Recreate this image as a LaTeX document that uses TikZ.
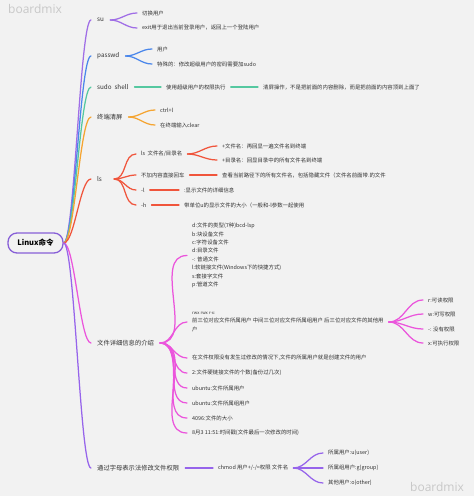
\documentclass[tikz,border=0pt]{standalone}
\usepackage{fontspec}
\newfontfamily\cjk{Noto Sans CJK SC}
\newfontfamily\wmfont{Open Sans}
\definecolor{bgc}{RGB}{242,242,242}
\definecolor{txt}{RGB}{50,50,50}
\definecolor{wmc}{RGB}{200,200,200}
\definecolor{rootc}{RGB}{135,95,215}
\definecolor{cSu}{RGB}{160,110,230}
\definecolor{cPw}{RGB}{75,135,235}
\definecolor{cSd}{RGB}{85,200,160}
\definecolor{cCl}{RGB}{245,165,50}
\definecolor{cLs}{RGB}{240,85,60}
\definecolor{cFi}{RGB}{235,85,220}
\definecolor{cCh}{RGB}{150,100,235}
\begin{document}
\begin{tikzpicture}[x=1pt,y=-1pt,
  base/.style={anchor=west, inner ysep=1pt, inner xsep=5pt, text=txt, font=\cjk\fontsize{5.4}{8.4}\selectfont},
  lone/.style={base, inner xsep=6pt, font=\cjk\fontsize{6.3}{7.5}\selectfont},
  rootbox/.style={draw=rootc, line width=1.3pt, rounded corners=9pt, minimum width=55pt, minimum height=20pt, text=black, font=\cjk\bfseries\fontsize{7.5}{9}\selectfont},
  lnk/.style={line width=1.25pt, line cap=round},
  trunk/.style={lnk},
  wm/.style={text=wmc, font=\wmfont\fontsize{12}{14}\selectfont, inner sep=0pt}
]
\fill[bgc] (0,0) rectangle (474,496);
\useasboundingbox (0,0) rectangle (474,496);

\node[wm, anchor=west] (wm1) at (8,9) {boardmix};
\node[wm, anchor=west] (wm2) at (410,487) {boardmix};

\node[rootbox] (root) at (35.5,243) {Linux命令};

% level 1
\node[lone] (su) at (91,20) {su};
\node[lone] (pw) at (91,56) {passwd};
\node[lone] (sd) at (91,87) {sudo\ \ shell};
\node[lone] (cl) at (91,117) {终端清屏};
\node[lone] (ls) at (91,179) {ls};
\node[lone] (fi) at (91,343) {文件详细信息的介绍};
\node[lone] (ch) at (91,468) {通过字母表示法修改文件权限};

\foreach \n/\c in {su/cSu,pw/cPw,sd/cSd,cl/cCl,ls/cLs,fi/cFi,ch/cCh}
  \draw[trunk,\c] (root.east) .. controls +(11,0) and +(-11,0) .. (\n.west);

% su
\node[base] (s1) at (137,13) {切换用户};
\node[base] (s2) at (137,28) {exit用于退出当前登录用户，返回上一个登陆用户};
% passwd
\node[base] (p1) at (152,49) {用户};
\node[base] (p2) at (152,64) {特殊的：修改超级用户的密码需要加sudo};
% sudo shell
\node[base] (g1) at (161,87) {使用超级用户的权限执行};
\node[base] (g2) at (258,87) {清屏操作，不是把前面的内容删除，而是把前面的内容顶到上面了};
% clear
\node[base] (c1) at (155,110) {ctrl+l};
\node[base] (c2) at (155,125) {在终端输入clear};
% ls
\node[base] (l1) at (136,154) {ls\ \ 文件名/目录名};
\node[base] (l11) at (217,146) {+文件名：再回显一遍文件名到终端};
\node[base] (l12) at (217,160) {+目录名：回显目录中的所有文件名到终端};
\node[base] (l2) at (136,175) {不加内容直接回车};
\node[base] (l21) at (217,175) {查看当前路径下的所有文件名，包括隐藏文件（文件名前面带.的文件};
\node[base] (l3) at (136,190) {-l};
\node[base] (l31) at (179,190) {:显示文件的详细信息};
\node[base] (l4) at (136,205) {-h};
\node[base] (l41) at (179,205) {带单位u的显示文件的大小（一般和-l参数一起使用};
% file info
\node[base, align=left] (f1) at (187,255.5) {d:文件的类型(7种)bcd-lsp\\b:块设备文件\\c:字符设备文件\\d:目录文件\\-: 普通文件\\l:软链接文件(Windows下的快捷方式)\\s:套接字文件\\p:管道文件};
\node[base, align=left] (f2) at (187,322) {{\fontsize{4.3}{6}\selectfont rwx rwx r-x:}\\前三位对应文件所属用户 中间三位对应文件所属组用户 后三位对应文件的其他用\\户};
\node[base] (f3) at (187,358) {在文件权限没有发生过修改的情况下,文件的所属用户就是创建文件的用户};
\node[base] (f4) at (187,373) {2:文件硬链接文件的个数(备份过几次)};
\node[base] (f5) at (187,388) {ubuntu:文件所属用户};
\node[base] (f6) at (187,403) {ubuntu:文件所属组用户};
\node[base] (f7) at (187,418) {4096:文件的大小};
\node[base] (f8) at (187,433) {8月3 11:51:时间戳(文件最后一次修改的时间)};
\node[base] (r1) at (423,300) {r:可读权限};
\node[base] (r2) at (423,314) {w:可写权限};
\node[base] (r3) at (423,329) {-: 没有权限};
\node[base] (r4) at (423,343) {x:可执行权限};
% chmod
\node[base] (m1) at (213,468) {chmod 用户+/-/=权限 文件名};
\node[base] (u1) at (323,453) {所属用户:u(user)};
\node[base] (u2) at (323,468) {所属组用户:g(group)};
\node[base] (u3) at (323,483) {其他用户:o(other)};

% connectors
\foreach \b in {s1,s2} \draw[lnk,cSu] (su.east) to[out=0,in=180] (\b.west);
\foreach \b in {p1,p2} \draw[lnk,cPw] (pw.east) to[out=0,in=180] (\b.west);
\draw[lnk,cSd] (sd.east) -- (g1.west);
\draw[lnk,cSd] (g1.east) -- (g2.west);
\foreach \b in {c1,c2} \draw[lnk,cCl] (cl.east) to[out=0,in=180] (\b.west);
\foreach \b in {l1,l2,l3,l4} \draw[lnk,cLs] ([xshift=6pt]ls.east) to[out=0,in=180] (\b.west);
\foreach \b in {l11,l12} \draw[lnk,cLs] (l1.east) to[out=0,in=180] (\b.west);
\draw[lnk,cLs] (l2.east) -- (l21.west);
\draw[lnk,cLs] (l3.east) -- (l31.west);
\draw[lnk,cLs] (l4.east) -- (l41.west);
\foreach \b in {f1,f2,f3,f4,f5,f6,f7,f8} \draw[lnk,cFi] (fi.east) to[out=0,in=180] (\b.west);
\foreach \b in {r1,r2,r3,r4} \draw[lnk,cFi] (f2.east) to[out=0,in=180] (\b.west);
\draw[lnk,cCh] (ch.east) -- (m1.west);
\foreach \b in {u1,u2,u3} \draw[lnk,cCh] (m1.east) to[out=0,in=180] (\b.west);
\end{tikzpicture}
\end{document}
